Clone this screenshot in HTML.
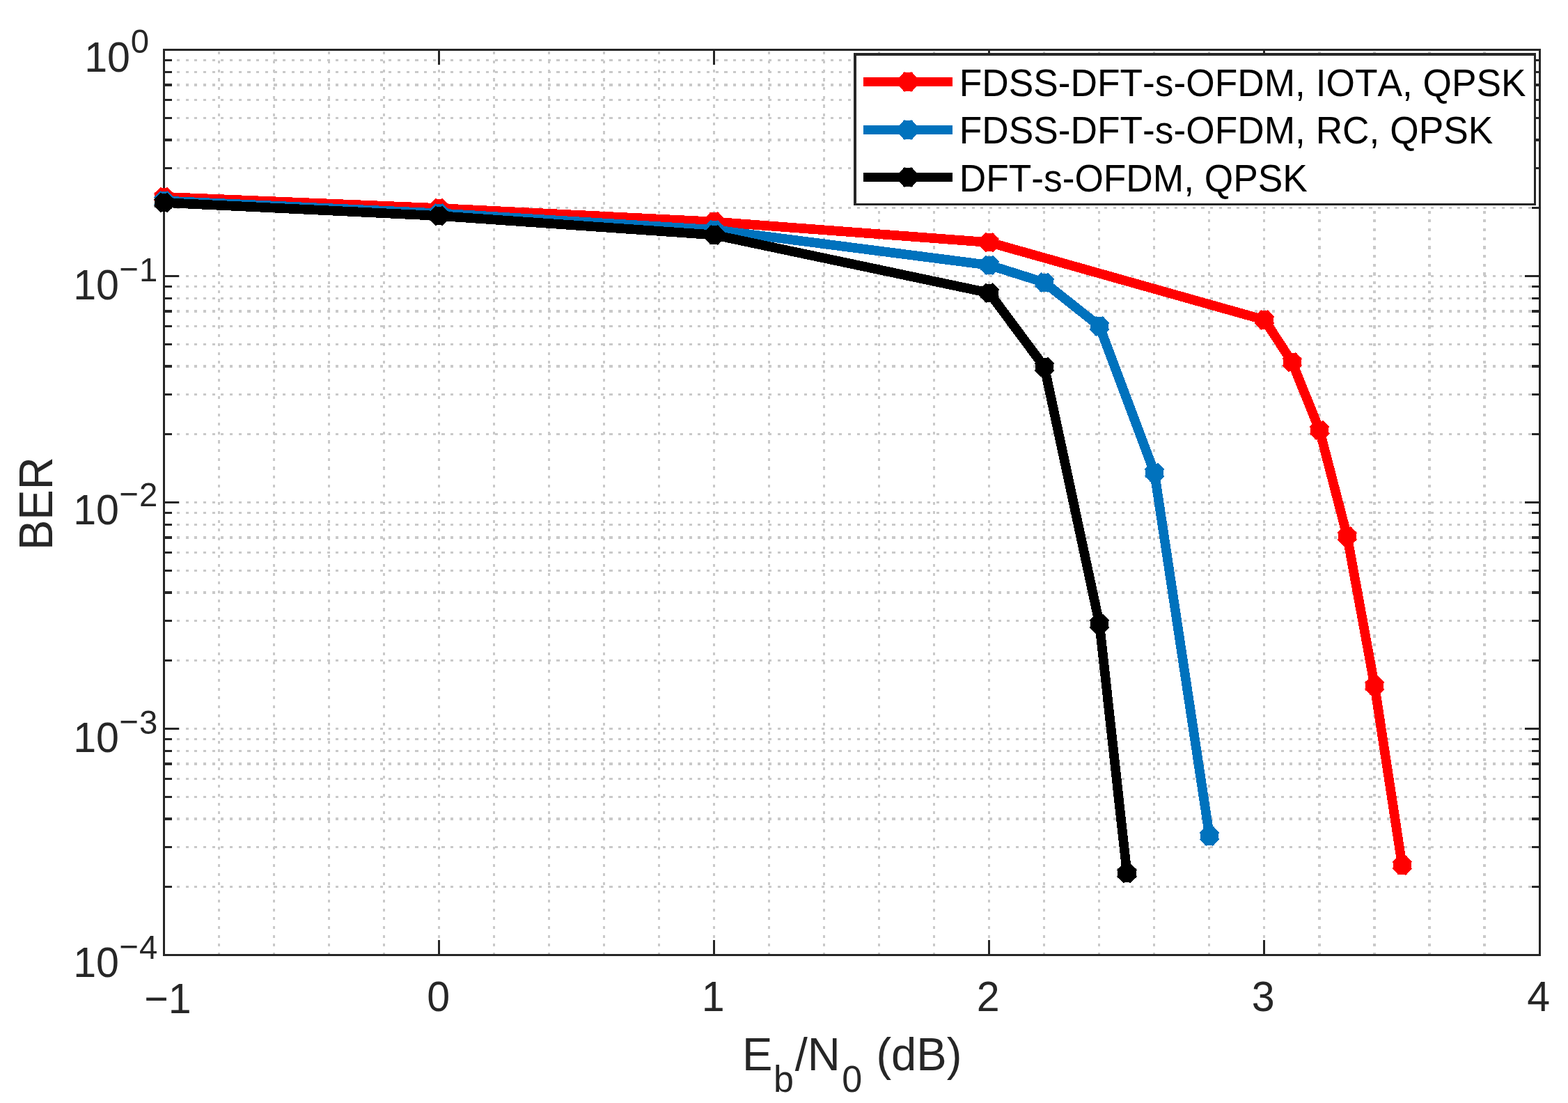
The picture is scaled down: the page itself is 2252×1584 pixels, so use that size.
<!DOCTYPE html>
<html lang="en"><head><meta charset="utf-8"><title>BER vs Eb/N0</title>
<style>html,body{margin:0;padding:0;background:#fff}body{width:2252px;height:1584px;overflow:hidden}svg{display:block}text{font-family:"Liberation Sans",sans-serif;font-kerning:none;white-space:pre}</style></head><body>
<svg width="2252" height="1584" viewBox="0 0 2252 1584">
<rect width="2252" height="1584" fill="#fff"/>
<g shape-rendering="crispEdges">
<path d="M235.09 396.67H2211.09M235.09 298.84H2211.09M235.09 241.61H2211.09M235.09 201.00H2211.09M235.09 169.50H2211.09M235.09 143.77H2211.09M235.09 122.01H2211.09M235.09 103.17H2211.09M235.09 86.54H2211.09M235.09 721.67H2211.09M235.09 623.84H2211.09M235.09 566.61H2211.09M235.09 526.00H2211.09M235.09 494.50H2211.09M235.09 468.77H2211.09M235.09 447.01H2211.09M235.09 428.17H2211.09M235.09 411.54H2211.09M235.09 1046.67H2211.09M235.09 948.84H2211.09M235.09 891.61H2211.09M235.09 851.00H2211.09M235.09 819.50H2211.09M235.09 793.77H2211.09M235.09 772.01H2211.09M235.09 753.17H2211.09M235.09 736.54H2211.09M235.09 1273.84H2211.09M235.09 1216.61H2211.09M235.09 1176.00H2211.09M235.09 1144.50H2211.09M235.09 1118.77H2211.09M235.09 1097.01H2211.09M235.09 1078.17H2211.09M235.09 1061.54H2211.09" fill="none" stroke="#c9c9c9" stroke-width="3.17" stroke-dasharray="4.14 8.5455" stroke-dashoffset="-6.1145"/>
<path d="M314.13 71.67V505.00M393.17 71.67V505.00M472.21 71.67V505.00M551.25 71.67V505.00M630.29 71.67V505.00M709.33 71.67V505.00M788.37 71.67V505.00M867.41 71.67V505.00M946.45 71.67V505.00M1025.49 71.67V505.00M1104.53 71.67V505.00M1183.57 71.67V505.00M1262.61 71.67V505.00M1341.65 71.67V505.00M1420.69 71.67V505.00M1499.73 71.67V505.00M1578.77 71.67V505.00M1657.81 71.67V505.00M1736.85 71.67V505.00M1815.89 71.67V505.00M1894.93 71.67V505.00M1973.97 71.67V505.00M2053.01 71.67V505.00M2132.05 71.67V505.00" fill="none" stroke="#c9c9c9" stroke-width="3.17" stroke-dasharray="4.23 8.4555" stroke-dashoffset="10.1155"/>
<path d="M314.13 505.00V938.00M393.17 505.00V938.00M472.21 505.00V938.00M551.25 505.00V938.00M630.29 505.00V938.00M709.33 505.00V938.00M788.37 505.00V938.00M867.41 505.00V938.00M946.45 505.00V938.00M1025.49 505.00V938.00M1104.53 505.00V938.00M1183.57 505.00V938.00M1262.61 505.00V938.00M1341.65 505.00V938.00M1420.69 505.00V938.00M1499.73 505.00V938.00M1578.77 505.00V938.00M1657.81 505.00V938.00M1736.85 505.00V938.00M1815.89 505.00V938.00M1894.93 505.00V938.00M1973.97 505.00V938.00M2053.01 505.00V938.00M2132.05 505.00V938.00" fill="none" stroke="#c9c9c9" stroke-width="3.17" stroke-dasharray="4.12 8.5655" stroke-dashoffset="12.1385"/>
<path d="M314.13 938.00V1371.67M393.17 938.00V1371.67M472.21 938.00V1371.67M551.25 938.00V1371.67M630.29 938.00V1371.67M709.33 938.00V1371.67M788.37 938.00V1371.67M867.41 938.00V1371.67M946.45 938.00V1371.67M1025.49 938.00V1371.67M1104.53 938.00V1371.67M1183.57 938.00V1371.67M1262.61 938.00V1371.67M1341.65 938.00V1371.67M1420.69 938.00V1371.67M1499.73 938.00V1371.67M1578.77 938.00V1371.67M1657.81 938.00V1371.67M1736.85 938.00V1371.67M1815.89 938.00V1371.67M1894.93 938.00V1371.67M1973.97 938.00V1371.67M2053.01 938.00V1371.67M2132.05 938.00V1371.67" fill="none" stroke="#c9c9c9" stroke-width="3.17" stroke-dasharray="4 8.6855" stroke-dashoffset="1.1460"/>
<path d="M630.29 1371.67v-21.34M630.29 71.67v21.34M1025.49 1371.67v-21.34M1025.49 71.67v21.34M1420.69 1371.67v-21.34M1420.69 71.67v21.34M1815.89 1371.67v-21.34M1815.89 71.67v21.34" fill="none" stroke="#262626" stroke-width="3.17"/>
<path d="M235.09 396.67h21.90M2211.09 396.67h-21.34M235.09 298.84h11.46M2211.09 298.84h-11.46M235.09 241.61h11.46M2211.09 241.61h-11.46M235.09 201.00h11.46M2211.09 201.00h-11.46M235.09 169.50h11.46M2211.09 169.50h-11.46M235.09 143.77h11.46M2211.09 143.77h-11.46M235.09 122.01h11.46M2211.09 122.01h-11.46M235.09 103.17h11.46M2211.09 103.17h-11.46M235.09 86.54h11.46M2211.09 86.54h-11.46M235.09 721.67h21.90M2211.09 721.67h-21.34M235.09 623.84h11.46M2211.09 623.84h-11.46M235.09 566.61h11.46M2211.09 566.61h-11.46M235.09 526.00h11.46M2211.09 526.00h-11.46M235.09 494.50h11.46M2211.09 494.50h-11.46M235.09 468.77h11.46M2211.09 468.77h-11.46M235.09 447.01h11.46M2211.09 447.01h-11.46M235.09 428.17h11.46M2211.09 428.17h-11.46M235.09 411.54h11.46M2211.09 411.54h-11.46M235.09 1046.67h21.90M2211.09 1046.67h-21.34M235.09 948.84h11.46M2211.09 948.84h-11.46M235.09 891.61h11.46M2211.09 891.61h-11.46M235.09 851.00h11.46M2211.09 851.00h-11.46M235.09 819.50h11.46M2211.09 819.50h-11.46M235.09 793.77h11.46M2211.09 793.77h-11.46M235.09 772.01h11.46M2211.09 772.01h-11.46M235.09 753.17h11.46M2211.09 753.17h-11.46M235.09 736.54h11.46M2211.09 736.54h-11.46M235.09 1273.84h11.46M2211.09 1273.84h-11.46M235.09 1216.61h11.46M2211.09 1216.61h-11.46M235.09 1176.00h11.46M2211.09 1176.00h-11.46M235.09 1144.50h11.46M2211.09 1144.50h-11.46M235.09 1118.77h11.46M2211.09 1118.77h-11.46M235.09 1097.01h11.46M2211.09 1097.01h-11.46M235.09 1078.17h11.46M2211.09 1078.17h-11.46M235.09 1061.54h11.46M2211.09 1061.54h-11.46" fill="none" stroke="#262626" stroke-width="3.17"/>
<path d="M235.09 71.67H2211.09V1371.67H235.09Z" fill="none" stroke="#262626" stroke-width="3.17" stroke-linejoin="miter"/>
<polyline points="235.4,282.8 630.6,299.0 1025.8,318.5 1421.0,348.1 1816.2,459.5 1855.7,520.0 1895.2,617.7 1934.8,770.0 1974.3,985.0 2013.8,1242.5" fill="none" stroke="#ff0000" stroke-width="13.7" stroke-linejoin="round"/>
<path d="M222.19 282.80h26.40M235.39 269.60v26.40M225.84 273.25l19.09 19.09M225.84 292.35l19.09 -19.09M617.39 299.00h26.40M630.59 285.80v26.40M621.04 289.45l19.09 19.09M621.04 308.55l19.09 -19.09M1012.59 318.50h26.40M1025.79 305.30v26.40M1016.24 308.95l19.09 19.09M1016.24 328.05l19.09 -19.09M1407.79 348.10h26.40M1420.99 334.90v26.40M1411.44 338.55l19.09 19.09M1411.44 357.65l19.09 -19.09M1802.99 459.50h26.40M1816.19 446.30v26.40M1806.64 449.95l19.09 19.09M1806.64 469.05l19.09 -19.09M1842.51 520.00h26.40M1855.71 506.80v26.40M1846.16 510.45l19.09 19.09M1846.16 529.55l19.09 -19.09M1882.03 617.70h26.40M1895.23 604.50v26.40M1885.68 608.15l19.09 19.09M1885.68 627.25l19.09 -19.09M1921.55 770.00h26.40M1934.75 756.80v26.40M1925.20 760.45l19.09 19.09M1925.20 779.55l19.09 -19.09M1961.07 985.00h26.40M1974.27 971.80v26.40M1964.72 975.45l19.09 19.09M1964.72 994.55l19.09 -19.09M2000.59 1242.50h26.40M2013.79 1229.30v26.40M2004.24 1232.95l19.09 19.09M2004.24 1252.05l19.09 -19.09" fill="none" stroke="#ff0000" stroke-width="13.7"/>
<polyline points="235.4,288.4 630.6,306.3 1025.8,330.0 1421.0,380.8 1500.0,405.7 1579.1,468.4 1658.1,679.0 1737.1,1200.6" fill="none" stroke="#0072bd" stroke-width="13.7" stroke-linejoin="round"/>
<path d="M222.19 288.40h26.40M235.39 275.20v26.40M225.84 278.85l19.09 19.09M225.84 297.95l19.09 -19.09M617.39 306.30h26.40M630.59 293.10v26.40M621.04 296.75l19.09 19.09M621.04 315.85l19.09 -19.09M1012.59 330.00h26.40M1025.79 316.80v26.40M1016.24 320.45l19.09 19.09M1016.24 339.55l19.09 -19.09M1407.79 380.80h26.40M1420.99 367.60v26.40M1411.44 371.25l19.09 19.09M1411.44 390.35l19.09 -19.09M1486.83 405.70h26.40M1500.03 392.50v26.40M1490.48 396.15l19.09 19.09M1490.48 415.25l19.09 -19.09M1565.87 468.40h26.40M1579.07 455.20v26.40M1569.52 458.85l19.09 19.09M1569.52 477.95l19.09 -19.09M1644.91 679.00h26.40M1658.11 665.80v26.40M1648.56 669.45l19.09 19.09M1648.56 688.55l19.09 -19.09M1723.95 1200.60h26.40M1737.15 1187.40v26.40M1727.60 1191.05l19.09 19.09M1727.60 1210.15l19.09 -19.09" fill="none" stroke="#0072bd" stroke-width="13.7"/>
<polyline points="235.4,291.0 630.6,310.0 1025.8,337.4 1421.0,420.7 1500.0,527.0 1579.1,896.0 1618.6,1254.1" fill="none" stroke="#000000" stroke-width="13.7" stroke-linejoin="round"/>
<path d="M222.19 291.00h26.40M235.39 277.80v26.40M225.84 281.45l19.09 19.09M225.84 300.55l19.09 -19.09M617.39 310.00h26.40M630.59 296.80v26.40M621.04 300.45l19.09 19.09M621.04 319.55l19.09 -19.09M1012.59 337.40h26.40M1025.79 324.20v26.40M1016.24 327.85l19.09 19.09M1016.24 346.95l19.09 -19.09M1407.79 420.70h26.40M1420.99 407.50v26.40M1411.44 411.15l19.09 19.09M1411.44 430.25l19.09 -19.09M1486.83 527.00h26.40M1500.03 513.80v26.40M1490.48 517.45l19.09 19.09M1490.48 536.55l19.09 -19.09M1565.87 896.00h26.40M1579.07 882.80v26.40M1569.52 886.45l19.09 19.09M1569.52 905.55l19.09 -19.09M1605.39 1254.10h26.40M1618.59 1240.90v26.40M1609.04 1244.55l19.09 19.09M1609.04 1263.65l19.09 -19.09" fill="none" stroke="#000000" stroke-width="13.7"/>
<rect x="1228" y="78" width="976.5" height="215.5" fill="#fff" stroke="#262626" stroke-width="3.17"/>
<rect x="1240" y="111" width="128" height="13" fill="#ff0000"/>
<path d="M1290.80 117.50h26.40M1304.00 104.30v26.40M1294.45 107.95l19.09 19.09M1294.45 127.05l19.09 -19.09" fill="none" stroke="#ff0000" stroke-width="13.7"/>
<rect x="1240" y="180" width="128" height="13" fill="#0072bd"/>
<path d="M1290.80 186.50h26.40M1304.00 173.30v26.40M1294.45 176.95l19.09 19.09M1294.45 196.05l19.09 -19.09" fill="none" stroke="#0072bd" stroke-width="13.7"/>
<rect x="1240" y="248" width="128" height="13" fill="#000000"/>
<path d="M1290.80 254.50h26.40M1304.00 241.30v26.40M1294.45 244.95l19.09 19.09M1294.45 264.05l19.09 -19.09" fill="none" stroke="#000000" stroke-width="13.7"/>
</g>
<text transform="translate(1377.70 137.80) scale(1 1.0420)" font-size="53.28" fill="#000">FDSS-DFT-s-OFDM, IOTA, QPSK</text>
<text transform="translate(1377.70 206.30) scale(1 1.0420)" font-size="53.28" fill="#000">FDSS-DFT-s-OFDM, RC, QPSK</text>
<text transform="translate(1377.70 274.80) scale(1 1.0420)" font-size="53.28" fill="#000">DFT-s-OFDM, QPSK</text>
<text transform="translate(121.20 103.00) scale(1 1.0250)" font-size="59.2" fill="#262626">10<tspan x="66.60" y="-26.15" font-size="47.36">0</tspan></text>
<text transform="translate(105.20 430.00) scale(1 1.0250)" font-size="59.2" fill="#262626">10<tspan x="66.00" y="-26.24" font-size="47.36">−</tspan><tspan x="94.90" y="-25.37" font-size="47.36">1</tspan></text>
<text transform="translate(105.20 753.00) scale(1 1.0250)" font-size="59.2" fill="#262626">10<tspan x="66.00" y="-26.44" font-size="47.36">−</tspan><tspan x="94.90" y="-25.56" font-size="47.36">2</tspan></text>
<text transform="translate(105.20 1080.00) scale(1 1.0250)" font-size="59.2" fill="#262626">10<tspan x="66.00" y="-26.05" font-size="47.36">−</tspan><tspan x="94.90" y="-25.17" font-size="47.36">3</tspan></text>
<text transform="translate(105.20 1403.00) scale(1 1.0250)" font-size="59.2" fill="#262626">10<tspan x="66.00" y="-26.24" font-size="47.36">−</tspan><tspan x="94.90" y="-25.37" font-size="47.36">4</tspan></text>
<text transform="translate(207.20 1454.70) scale(1 1.0250)" font-size="59.2" fill="#262626">−1</text>
<text transform="translate(629.60 1452.00) scale(1 1.0250)" font-size="59.2" fill="#262626" text-anchor="middle">0</text>
<text transform="translate(1024.30 1452.00) scale(1 1.0250)" font-size="59.2" fill="#262626" text-anchor="middle">1</text>
<text transform="translate(1419.20 1452.00) scale(1 1.0250)" font-size="59.2" fill="#262626" text-anchor="middle">2</text>
<text transform="translate(1814.30 1452.00) scale(1 1.0250)" font-size="59.2" fill="#262626" text-anchor="middle">3</text>
<text transform="translate(2209.80 1452.00) scale(1 1.0250)" font-size="59.2" fill="#262626" text-anchor="middle">4</text>
<text transform="translate(1066.00 1536.80) scale(1 1.0300)" font-size="65.12" fill="#262626">E<tspan x="44.90" y="29.81" font-size="52.1">b</tspan><tspan x="75.70" y="0.00" font-size="65.12">/N</tspan><tspan x="143.20" y="30.00" font-size="52.1">0</tspan><tspan x="174.31" y="0.00" font-size="65.12"> (dB)</tspan></text>
<text transform="translate(75.10 790.10) rotate(-90) scale(1 1.0440)" font-size="65.12" fill="#262626">BER</text>
</svg></body></html>
